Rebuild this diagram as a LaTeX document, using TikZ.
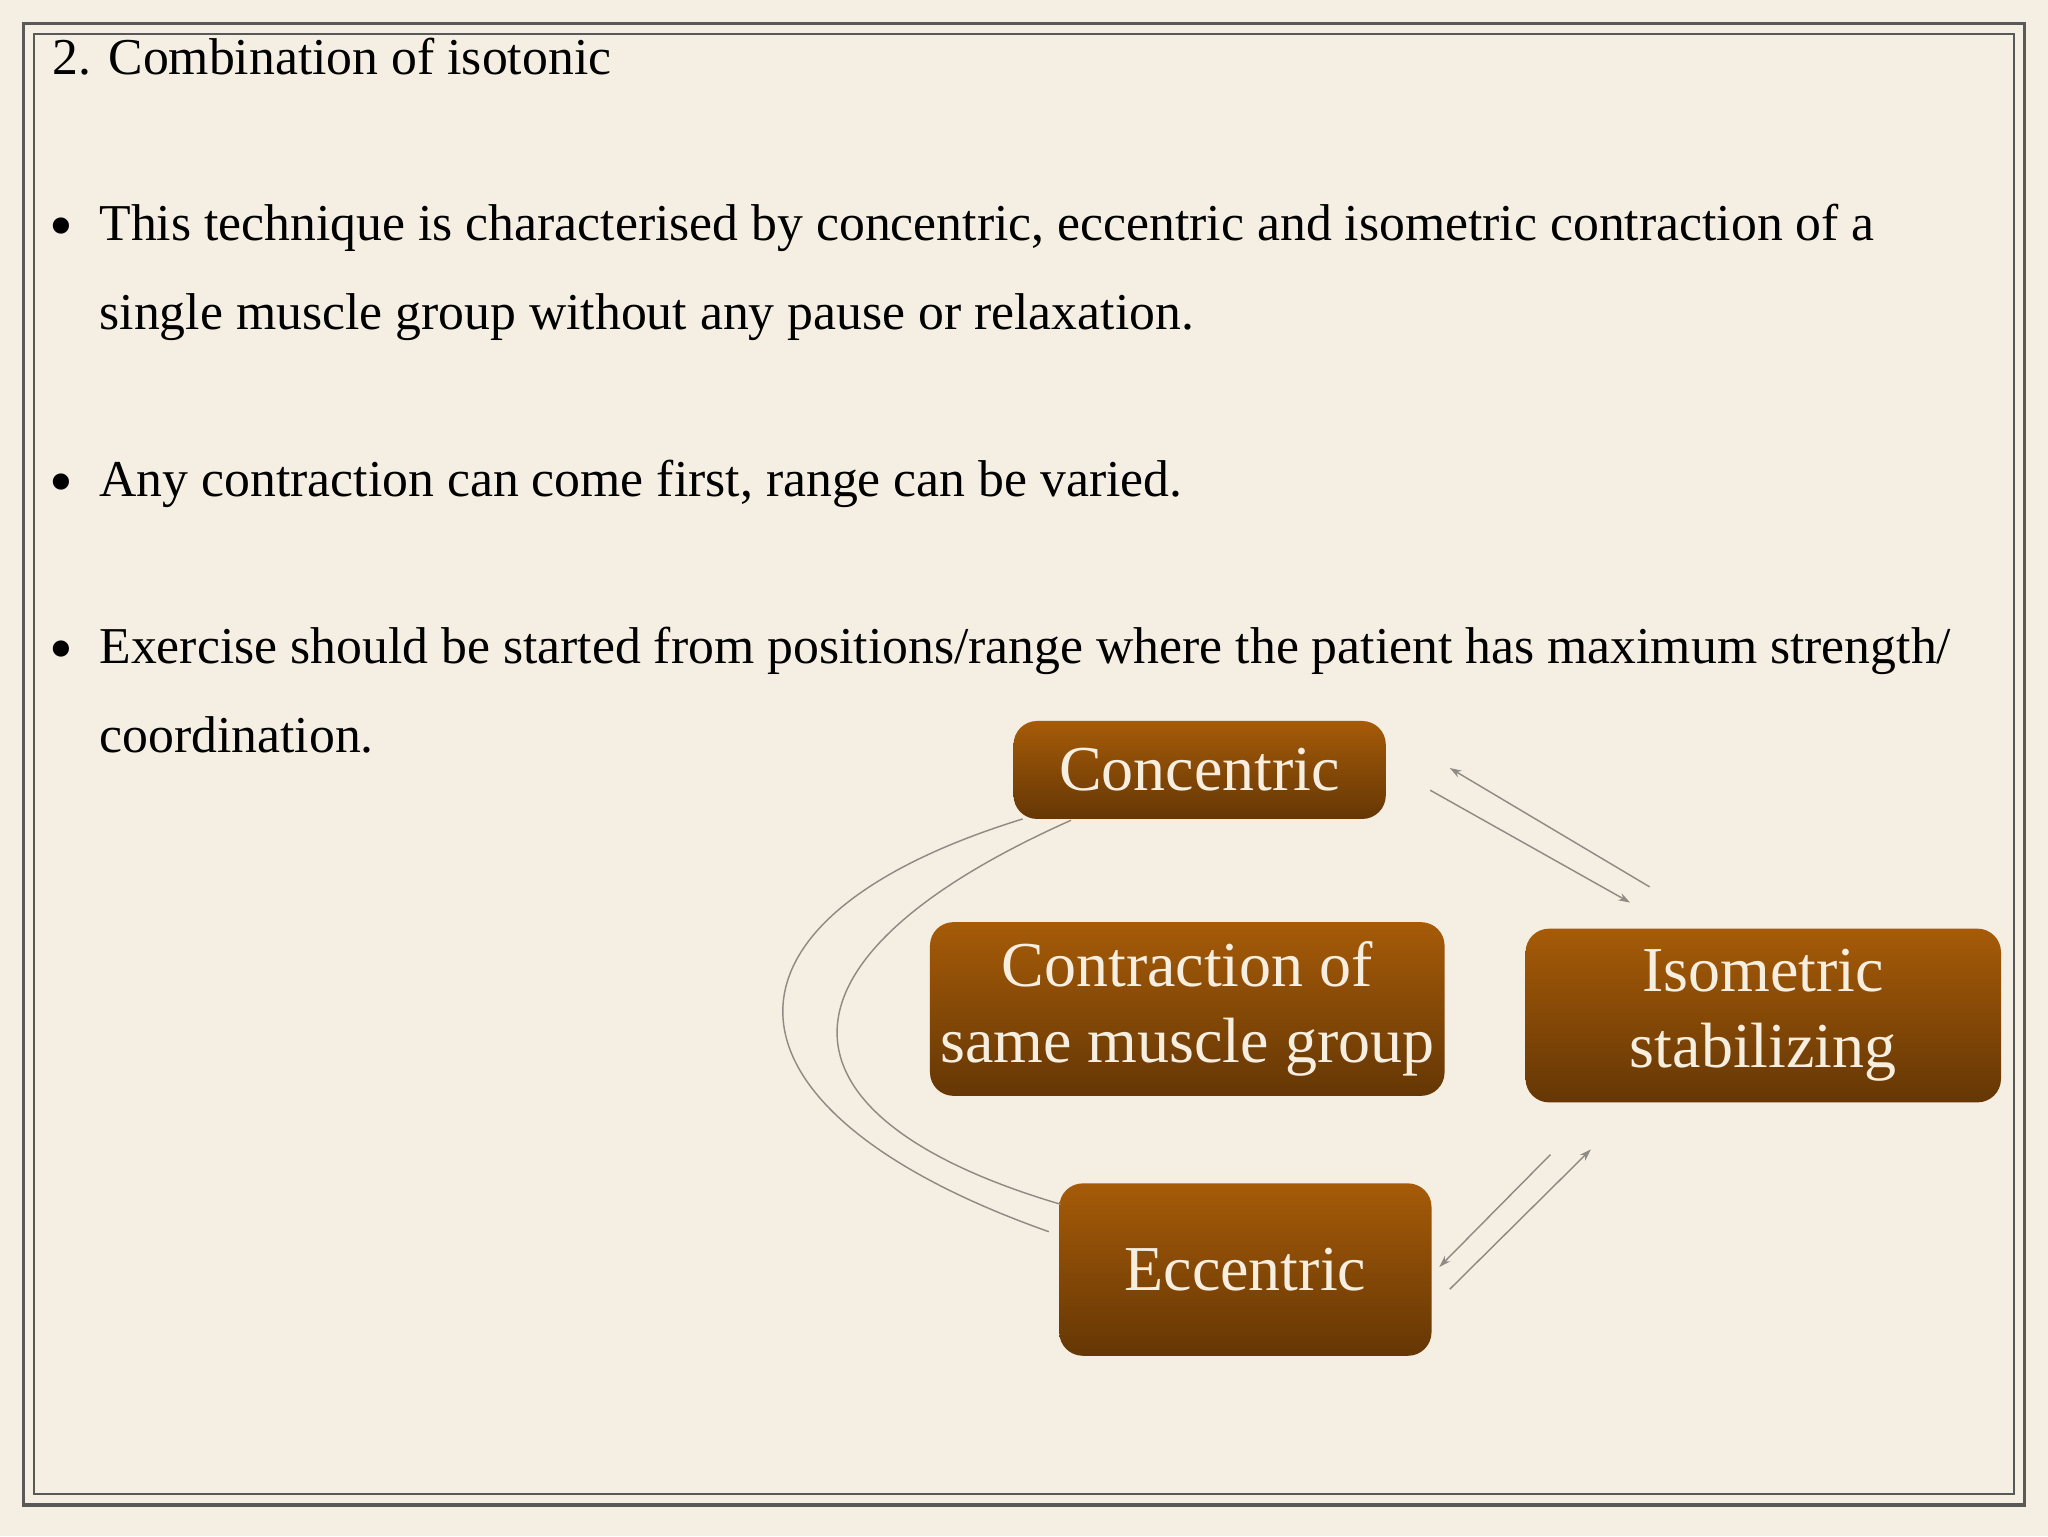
\documentclass[tikz,border=0pt]{standalone}
\usepackage{fontspec}
\setmainfont{Liberation Serif}
\usetikzlibrary{arrows.meta}
\definecolor{bg}{HTML}{F5EEE2}
\definecolor{btop}{HTML}{A65B08}
\definecolor{bbot}{HTML}{653705}
\definecolor{txtb}{HTML}{F6EEDF}
\definecolor{ln}{HTML}{8E8A84}
\begin{document}
\begin{tikzpicture}[x=1pt,y=-1pt,
  box/.style={draw=none,rounded corners=18pt,top color=btop,bottom color=bbot,text=txtb,font=\fontsize{49}{58}\selectfont,align=center,inner sep=0pt},
  conn/.style={draw=ln,line width=1.1pt,-{Stealth[length=9pt,width=6pt]}},
  curv/.style={draw=ln,line width=1.1pt},
  body/.style={anchor=base west,inner sep=0pt,font=\fontsize{39.6}{46}\selectfont}]
\useasboundingbox (0,0) rectangle (1568,1176);
\fill[bg] (0,0) rectangle (1568,1176);
\draw[gray!70!black,line width=3pt] (18,18) rectangle (1550,1152);
\draw[gray!70!black,line width=1.2pt] (26,26) rectangle (1542,1144);
\node[body] (title) at (40,57) {2. Combination of isotonic};
\node[body,font=\fontsize{52}{52}\selectfont] (d1) at (38,190) {\textbullet};
\node[body] (b1a) at (76,184) {This technique is characterised by concentric, eccentric and isometric contraction of a};
\node[body] (b1b) at (76,252) {single muscle group without any pause or relaxation.};
\node[body,font=\fontsize{52}{52}\selectfont] (d2) at (38,386) {\textbullet};
\node[body] (b2) at (76,380) {Any contraction can come first, range can be varied.};
\node[body,font=\fontsize{52}{52}\selectfont] (d3) at (38,514) {\textbullet};
\node[body] (b3a) at (76,508) {Exercise should be started from positions/range where the patient has maximum strength/};
\node[body] (b3b) at (76,576) {coordination.};
\node[box,minimum width=285pt,minimum height=75pt] (con) at (918.5,589.5) {Concentric};
\node[box,minimum width=394pt,minimum height=133pt] (mid) at (909,772.5) {Contraction of\\same muscle group};
\node[box,minimum width=364pt,minimum height=133pt] (iso) at (1350,777.5) {Isometric\\stabilizing};
\node[box,minimum width=285pt,minimum height=132pt] (ecc) at (953.5,972) {Eccentric};
\coordinate (a1s) at (1095,605); \coordinate (a1e) at (1248,691);
\coordinate (a2s) at (1263,679); \coordinate (a2e) at (1110,588);
\coordinate (a3s) at (1187,884); \coordinate (a3e) at (1102,970);
\coordinate (a4s) at (1110,987); \coordinate (a4e) at (1218,880);
\draw[conn] (a1s) -- (a1e);
\draw[conn] (a2s) -- (a2e);
\draw[conn] (a3s) -- (a3e);
\draw[conn] (a4s) -- (a4e);
\coordinate (c1s) at (783,627); \coordinate (c1e) at (803,943);
\coordinate (c2s) at (820,628); \coordinate (c2e) at (812,922);
\draw[curv] (c1s) .. controls (530,705) and (540,850) .. (c1e);
\draw[curv] (c2s) .. controls (580,735) and (585,855) .. (c2e);
\end{tikzpicture}
\end{document}
